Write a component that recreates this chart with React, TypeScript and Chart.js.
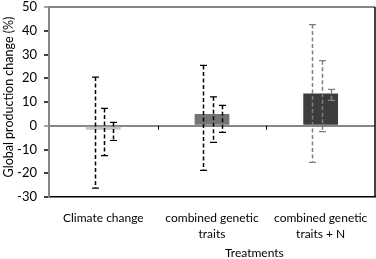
import React, { useEffect, useRef } from 'react';
import { Chart, registerables } from 'chart.js';

Chart.register(...registerables);

const categories: (string | string[])[] = [
  'Climate change',
  ['combined genetic', 'traits'],
  ['combined genetic', 'traits + N'],
];
const barValues = [-1.7, 5.0, 13.6];
const barColors = ['#c4c4c4', '#747474', '#3c3c3c'];

// three error-bar series per category (high / low)
const errHigh1 = [20.5, 25.4, 42.6];
const errLow1 = [-26.3, -18.8, -15.4];
const errHigh2 = [7.3, 12.2, 27.4];
const errLow2 = [-12.6, -7.0, -2.5];
const errHigh3 = [1.4, 8.6, 15.3];
const errLow3 = [-6.2, -2.8, 10.7];
const errColors = ['#000000', '#000000', '#7f7f7f'];

const yMin = -30;
const yMax = 50;
const yStep = 10;

const yTitle = 'Global production change (%)';
const xTitle = 'Treatments';

const FONT = 'Lato';

export default function App() {
  const ref = useRef<HTMLCanvasElement | null>(null);

  useEffect(() => {
    const canvas = ref.current;
    if (!canvas) return;

    const series = [
      { hi: errHigh1, lo: errLow1, off: -0.079 },
      { hi: errHigh2, lo: errLow2, off: 0.01 },
      { hi: errHigh3, lo: errLow3, off: 0.093 },
    ];

    const decor = {
      id: 'decor',
      afterDatasetsDraw(chart: any) {
        const { ctx, chartArea: a, scales } = chart;
        const x = scales.x;
        const y = scales.y;
        const catW = x.getPixelForValue(1) - x.getPixelForValue(0);
        ctx.save();
        const y0 = y.getPixelForValue(0);
        ctx.strokeStyle = '#000';
        ctx.lineWidth = 1;
        for (let i = 1; i < categories.length; i++) {
          const px = Math.round((x.getPixelForValue(i - 1) + x.getPixelForValue(i)) / 2) + 0.5;
          ctx.beginPath();
          ctx.moveTo(px, y0);
          ctx.lineTo(px, y0 + 4);
          ctx.stroke();
        }
        for (let c = 0; c < categories.length; c++) {
          const cx = x.getPixelForValue(c);
          series.forEach((s) => {
            const px = Math.round(cx + s.off * catW) + 0.5;
            const top = y.getPixelForValue(s.hi[c]);
            const bot = y.getPixelForValue(s.lo[c]);
            ctx.strokeStyle = errColors[c];
            ctx.lineWidth = 1.5;
            ctx.setLineDash([4, 2.5]);
            ctx.beginPath();
            ctx.moveTo(px, top);
            ctx.lineTo(px, bot);
            ctx.stroke();
            ctx.setLineDash([]);
            ctx.lineWidth = 1.2;
            ctx.beginPath();
            ctx.moveTo(px - 3.5, top);
            ctx.lineTo(px + 3.5, top);
            ctx.moveTo(px - 3.5, bot);
            ctx.lineTo(px + 3.5, bot);
            ctx.stroke();
          });
        }
        ctx.strokeStyle = '#000';
        ctx.lineWidth = 1.5;
        ctx.beginPath();
        ctx.moveTo(a.right, a.top);
        ctx.lineTo(a.right, a.bottom);
        ctx.stroke();
        ctx.restore();
      },
      afterDraw(chart: any) {
        const { ctx, chartArea: a } = chart;
        ctx.save();
        ctx.fillStyle = '#000';
        ctx.font = `12.5px ${FONT}`;
        ctx.textAlign = 'center';
        ctx.textBaseline = 'middle';
        ctx.translate(9, 97);
        ctx.rotate(-Math.PI / 2);
        ctx.fillText(yTitle, 0, 0);
        ctx.restore();
        ctx.save();
        ctx.fillStyle = '#000';
        ctx.font = `12px ${FONT}`;
        ctx.textAlign = 'center';
        ctx.textBaseline = 'middle';
        ctx.fillText(xTitle, a.left + (a.right - a.left) * 0.63, 253);
        ctx.restore();
      },
    };

    const chart = new Chart(canvas, {
      type: 'bar',
      data: {
        labels: categories as any,
        datasets: [
          {
            data: barValues,
            backgroundColor: barColors,
            borderWidth: 0,
            barPercentage: 0.32,
            categoryPercentage: 1,
          },
        ],
      },
      options: {
        responsive: false,
        animation: false,
        devicePixelRatio: 1,
        layout: { padding: { top: 0, right: 1, left: 0, bottom: 0 } },
        plugins: { legend: { display: false }, tooltip: { enabled: false } },
        scales: {
          x: {
            grid: { display: false },
            border: { display: true, color: '#000', width: 1.5 },
            ticks: {
              color: '#000',
              font: { family: FONT, size: 12, lineHeight: 1.35 },
              padding: 5,
              maxRotation: 0,
              autoSkip: false,
            },
            afterFit(scale: any) {
              scale.height = 62;
            },
          },
          y: {
            min: yMin,
            max: yMax,
            grid: {
              drawOnChartArea: true,
              color: (ctx: any) =>
                ctx.tick && (ctx.tick.value === 0 || ctx.tick.value === yMax) ? '#868686' : 'rgba(0,0,0,0)',
              lineWidth: (ctx: any) => (ctx.tick && (ctx.tick.value === 0 || ctx.tick.value === yMax) ? 2 : 0),
              tickColor: (ctx: any) =>
                ctx.tick && (ctx.tick.value === 0 || ctx.tick.value === yMax) ? '#868686' : '#000',
              tickWidth: 1.5,
              tickLength: 5,
            },
            border: { display: true, color: '#868686', width: 2 },
            ticks: {
              stepSize: yStep,
              color: '#000',
              font: { family: FONT, size: 13 },
              padding: 7,
            },
            afterFit(scale: any) {
              scale.width = 49;
              scale.paddingTop = 7;
              scale.paddingBottom = 0;
            },
          },
        },
      },
      plugins: [decor],
    });

    return () => chart.destroy();
  }, []);

  return (
    <div style={{ position: 'absolute', left: 0, top: 0, width: 376, height: 259, background: '#fff' }}>
      <canvas ref={ref} width={376} height={259} />
    </div>
  );
}
